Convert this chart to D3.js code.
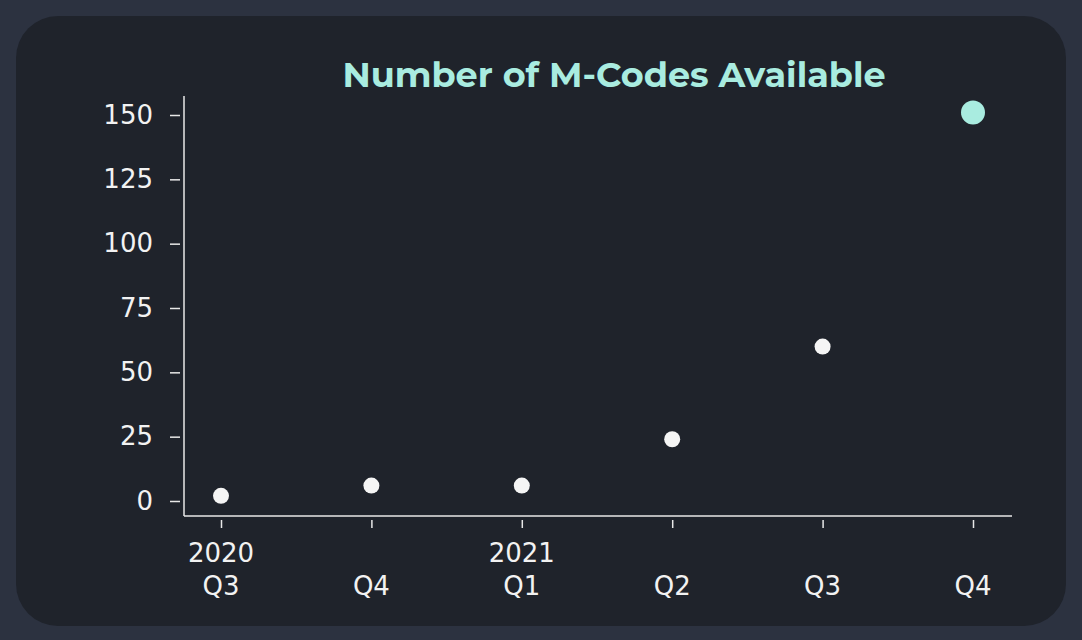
<!DOCTYPE html><html><head><meta charset="utf-8">
<script src="https://cdn.jsdelivr.net/npm/d3@7"></script>
<style>body{margin:0;background:#2c3240;}svg{display:block}</style></head><body>
<svg id="c" width="1082" height="640"></svg>
<script>
const quarters=["Q3","Q4","Q1","Q2","Q3","Q4"];
const years=["2020","","2021","","",""];
const values=[2,6,6,24,60,151];
const yTicks=[0,25,50,75,100,125,150];
const svg=d3.select("#c");
svg.append("rect").attr("x",16).attr("y",16).attr("width",1050).attr("height",610).attr("rx",42).attr("fill","#1f232b");
svg.append("text").attr("x",614).attr("y",87).attr("text-anchor","middle").attr("fill","#a9ece0")
 .attr("font-family","Montserrat, Lato, sans-serif").attr("font-weight","bold").attr("font-size",35).text("Number of M-Codes Available");
const x=d3.scalePoint().domain(d3.range(values.length)).range([221,973]);
const y=d3.scaleLinear().domain([0,150]).range([501,115]);
const font="DejaVu Sans, sans-serif";
const fs=26;
const ya=svg.append("g").attr("transform","translate(184,0)").call(d3.axisLeft(y).tickValues(yTicks).tickSize(14).tickPadding(17));
ya.select(".domain").attr("d","M0,96V516");
ya.selectAll(".tick line").attr("x1",-14).attr("x2",-4);
const xa=svg.append("g").attr("transform","translate(0,516)").call(d3.axisBottom(x).tickSize(8).tickFormat(""));
xa.select(".domain").attr("d","M184,0H1012");
xa.selectAll(".tick line").attr("y1",4).attr("y2",12);
[ya,xa].forEach(a=>{a.selectAll("path,line").attr("stroke","#e8e8e8").attr("stroke-width",1.5);
 a.selectAll("text").attr("fill","#f2f2f2").attr("font-family",font).attr("font-size",fs);});
const lab=svg.append("g");
values.forEach((v,i)=>{
 lab.append("text").attr("x",x(i)).attr("y",562).attr("text-anchor","middle").attr("fill","#f2f2f2").attr("font-family",font).attr("font-size",fs).text(years[i]);
 lab.append("text").attr("x",x(i)).attr("y",595).attr("text-anchor","middle").attr("fill","#f2f2f2").attr("font-family",font).attr("font-size",fs).text(quarters[i]);
});
svg.append("g").selectAll("circle").data(values).join("circle")
 .attr("cx",(d,i)=>x(i)).attr("cy",d=>y(d))
 .attr("r",(d,i)=>i===values.length-1?12:8)
 .attr("fill",(d,i)=>i===values.length-1?"#a9ece0":"#f5f5f5");
</script></body></html>
